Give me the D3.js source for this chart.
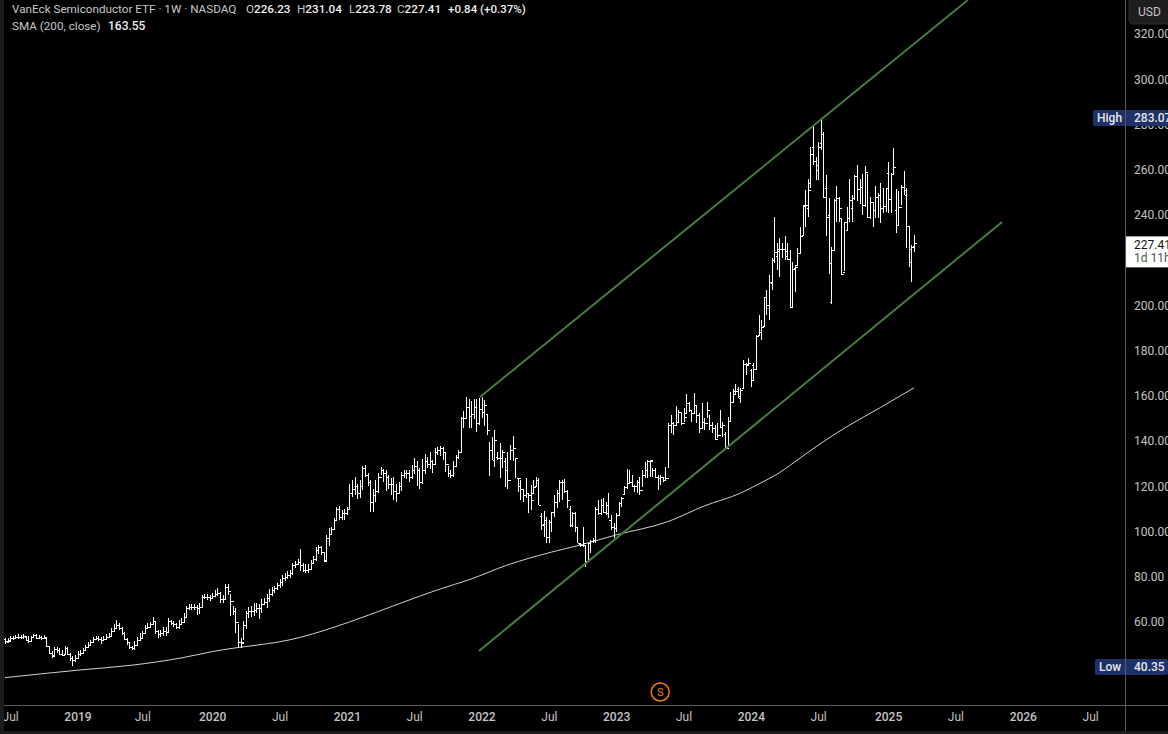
<!DOCTYPE html>
<html>
<head>
<meta charset="utf-8">
<script src="https://cdn.jsdelivr.net/npm/d3@7"></script>
<style>
  html, body { margin: 0; padding: 0; background: #000; overflow: hidden; }
  text { font-family: Roboto, sans-serif; }
</style>
</head>
<body>
<svg id="chart" width="1168" height="734"></svg>
<script>
// weekly bars (one row = 10 weeks)
var opens = [
  52.5,51.2,52,53,53,53.2,53.5,53.2,53.5,52,
  51.6,53.5,54.2,53,53.2,53,53,49.5,46.5,45.2,
  48,47.5,46,45.8,48.5,46,44,43,44,46,
  46.5,47.5,49,50,51,52.5,53,52.5,52,52.5,
  53.5,54,56,57.5,58.5,57.5,55,52.5,51,49,
  48.5,50,52,53,55,57.5,58,59,60.5,56,
  54.5,55,56,55.5,60.5,59.5,59,58,59,60,
  62,66,66.5,66.7,66.5,66,66.5,71,71.2,71,
  70.5,71.5,72.6,73,70,70,75.5,73.5,69.5,65,
  60,51,51,58.6,63.8,65,65,65.5,66,66,
  68,69,70.5,72.5,74,75,76.3,77.7,79.6,80,
  81,81.5,85,85.5,86.5,85,83,83,83.5,86,
  88,92,93,91,87.5,97,99,101,105,110,
  106.5,108,108,110,117,119,120,117,120,128,
  125,122,113,116,118,124,127,126,124,121,
  121,118,117,120,125,126,126,124,127,129,
  127,122,127,131,130,131,130,135,136,137,
  135,130,126,125,129,133,135,150,150,155,
  151,152,155,148,154,153,152,145,136,131.7,
  133,132.4,132.4,131,127,123,136,136.8,123.5,120,
  119,116,117,116,117,120,122.8,107,103.5,105,
  97.8,104.4,108.8,113,117,122,122,118,110,103,
  108,102,94.5,94,94,87,94.8,96,96.3,110,
  108,111.8,108.8,108,105,102,101.4,107.3,112.5,116.5,
  119.8,121.3,122,120,120,122,118.4,125,127.2,131,
  131,127,124.3,123.6,124.3,122.8,123.5,147,147.9,147,
  148.6,153,147.9,152.5,156.7,153.8,152.3,156,151.6,145.7,
  148.6,148,153.8,147,145.7,141,142.7,146.4,143,137,
  149,157.5,162,163,159,163.5,174,174,171.5,173.6,
  172,187,188.4,191,203.9,200,210,220,222,225,
  225,225,224,220.5,199.4,216.5,218,223,231,244.4,
  243,254,270,264,260,272,276,252,240,201.5,
  224.5,246.6,247.6,238.5,214.9,233.5,238.5,243,247.3,257,
  251.3,252.5,244.4,259,239.2,245.8,242,248,248.8,242.9,
  244,258.4,247,258,242,235.5,243.6,252.2,249,235,
  219,226.23
]
var highs = [
  53,53,53.8,54,54.2,54.6,54.4,54.6,53.8,53.6,
  54,54.8,54.5,54.2,54,54.2,53.4,49.5,47.2,49,
  49,48.4,47.6,49.6,48.8,46.5,45,45.5,47,47.6,
  48.5,50,51,52,53.4,54,54,53.2,53.6,54.6,
  55,57.4,59,60.8,59.6,57.8,55.4,52.8,51,49.6,
  51.4,53.2,55,56.2,58.6,59.4,60.2,62,60.6,56.6,
  56.6,57.6,58,61.8,61,60.4,59.6,60.8,61.6,63.8,
  67,67.8,68,68,67.6,68.2,72,72.6,72.4,72,
  72.8,74,75,73.2,72,76.8,76.6,72.4,67,66,
  59,52.8,60.5,65,66.8,67.2,68.4,68.2,67.8,70,
  70.6,72.4,74.8,75.6,76,77.4,79.2,81,81.6,82.4,
  83,86.2,86.8,88,92.3,86,85.5,85.5,87.4,89.2,
  93,94,93.8,91,98.6,101.6,102,106,111,111.4,
  109.5,109.8,111,121,122.8,124,121,122.6,129.2,129.4,
  126,123,119,122.6,125.8,128.4,127.6,127,124.8,123.6,
  124,120.8,121.8,126.2,127.4,127.4,127,129.6,132.6,131.4,
  128,132,134.4,133,135,131.8,137,137.6,138,137.4,
  135,129,127.4,131.4,134,136,150.6,153.4,159.4,158.4,
  157.8,158.6,158.4,159,159.5,158,152,139.8,142,145,
  135.3,139,136,132.4,135.3,138.3,142.3,132.4,123.6,122.8,
  119,123.6,116.9,120.6,122.8,124.3,123.6,108,109.3,106.6,
  105.1,108.8,116.2,118.4,122.8,122.8,123.4,118.4,111.3,108.8,
  108.8,102.2,94.8,102.2,94.1,94.8,96.3,97,111,114,
  114.3,114.7,113.2,116.9,107.3,103.6,108,113.2,115.4,120.2,
  127.5,127.2,125,120.6,122.8,124.3,127.2,130.9,131.7,131.7,
  128,128,125,125,123.6,128.4,147.9,151.6,148.6,155.5,
  153.8,152.3,154.5,160.8,157.5,153.8,161.1,156,152.3,156.7,
  150,157.5,151.6,148.6,147.1,147.9,153.8,148.6,144.2,150.5,
  161.9,162.9,165.2,164,163.3,175.9,174.4,176.6,172,174.4,
  187,195.8,193.6,203.9,206.8,213.5,220.8,239.3,227.5,229.7,
  227.5,230.7,227.5,224.5,219.4,217.9,225.2,234.8,244.4,251,
  255.7,270,279.3,265.7,272.4,283.07,276.8,257.6,247.3,226,
  246.9,253,248,238.5,237,243.6,255.7,248.8,257.6,262,
  256,258,261.6,258,247.8,245.8,252.8,249.5,254,252,
  252,263.5,258.4,269.4,251.3,250.7,253.2,259.4,251.7,235,
  226.7,231.04
]
var lows = [
  50.2,50.8,51.5,52.2,52.4,52.6,52.4,52.6,51.4,50.6,
  51.4,53,52.6,52.4,52,52.4,49,45.8,44,44.6,
  46.4,45.2,44.8,45.6,45.4,42.8,40.35,42.4,43.8,44.8,
  45.8,47.2,48.6,49.8,50.6,52,51.4,50.2,51.4,52.2,
  52.8,53.8,55.6,57,56.6,54.4,52,50,48,47.6,
  47.8,49.6,51.4,52.6,54.8,56.8,57.4,59,54.8,52.8,
  53.2,53.8,54,55.2,58.6,57.6,56.8,57,58.8,59.8,
  62,65.2,65.4,65.4,63,63.4,66.4,70,69.6,69.2,
  70,71,71.6,68.4,68.4,69.6,71.8,62.6,63,55,
  48.4,48.3,52,57,61.8,62,62.6,64,61.5,63.8,
  67.4,66.4,69,71.4,73,74,75,76,78,79.2,
  79.6,81,84,85,82.4,82,81.8,81.8,83,85.8,
  87,90.2,89.6,86.4,87,93.6,98.6,100.6,104.6,105,
  105,105.2,107.5,110,115.4,116,114.4,115,118.4,124,
  120,108.5,108.5,113,117,125,122,118,119,116,
  114,113,116.4,117.8,123.6,123.4,121.8,123.4,125.4,120,
  119,121,125.6,128,127.6,126,129.6,134,133.6,131.8,
  126.4,124,123.6,124,128.6,132,134.6,146,149.6,146,
  146,149.6,144,147,150,146.5,142.6,124.6,131.7,128.7,
  131.7,123.6,128,119.9,119,131.7,131,123.6,117.7,114,
  113.2,114.7,108,109.6,116.9,119.9,111.8,100.7,97.8,95,
  94.8,100,106.6,110.3,113.2,114,116.9,110.3,102.2,102.2,
  100,94.8,93.3,93.3,84.4,86.7,90.4,94.8,94.8,107.3,
  107.3,108,107.3,105.9,100.7,97,100,107.3,111,116.2,
  119,121.3,119.9,117.7,116.9,116.2,119.9,123.6,123.6,124.3,
  124.3,123.6,118.4,120.6,122,122.8,128,143.5,142.7,147.1,
  148.6,147.1,148.6,152.3,153,148.6,152.3,147.9,143.5,145.7,
  144.9,150,144.9,143.5,140.5,141.2,145.7,142,136.8,138,
  149,156.7,161,159,156.7,163.3,169,173,164,167,
  171.4,187,184.7,190.6,195.8,193.6,206.8,218.6,215.7,212.7,
  220.8,220,220,198.7,198.7,206,217.9,223,230.7,234.8,
  239,251.7,262,255.4,255.4,268.7,247.3,230.7,214,200.6,
  224.5,237,237,213.4,215,233.3,237,237,246.6,246,
  245,240,243.6,238.5,238,234.5,238.5,238.5,236.6,240.7,
  241.4,240.7,240.7,258,232,235.5,244.4,248.8,225.2,217,
  210.5,223.78
]
var closes = [
  51.5,51.8,53,53,53.2,53.5,53.2,53.6,52,51.5,
  53.5,54.2,53,53.2,53,53.2,49.5,46.5,45,48,
  47.5,46,45.5,48.5,46,44,43,44,46,46.5,
  47.5,49,50,51,52.5,53,52.5,52,52.5,53.5,
  54,56,57.5,58.5,57.5,55,52.5,51,49,48.5,
  50,52,53,55,57.5,58,59,60.5,56,54.5,
  55,56,55.5,60.5,59.5,59,58,59,60,62,
  66,66.5,66.7,66.5,66,66.5,71,71.2,71,70.5,
  71.5,72.6,73,70,70,75.5,73.5,69.5,65,60,
  51,50.5,58.6,63.8,65,65,65.5,66,66,68,
  69,70.5,72.5,74,75,76.3,77.7,79.6,80,81,
  81.5,85,85.5,86.5,85,83,83,83.5,86,88,
  92,93,91,87,97,99,101,105,110,106.5,
  108,108,110,117,119,120,117,120,128,125,
  122,113,116,118,124,127,126,124,121,121,
  118,117,120,125,126,126,124,127,129,127,
  122,127,131,130,131,130,135,136,137,135,
  130,126,125,129,133,135,150,150,155,151,
  152,155,148,154,153,156,145,136,131.7,140.5,
  132.4,132.4,135,127,122.8,136,136.8,132.4,123.6,119,
  116,117,116,114,119.8,122.8,111.8,103,105,97.8,
  104.4,108.8,113,117,122,122,118,114,103,108,
  102,95,94,94.8,87,94.8,96,96.3,110,108,
  111.8,108.8,111.8,105,102,101.4,107.3,112.5,114.7,119.8,
  121.3,122,120,120,122,118.4,125,127.2,131,131.7,
  127,124.3,123.6,124.3,122.8,123.5,147,147.9,147,148.6,
  153,147.9,150.8,156.7,153.8,152.3,156,151.6,145.7,148.6,
  148,153.8,147,145.7,141,142.7,146.4,147,137,149,
  157.4,161,162,160,162.6,174,173.5,174.5,167,172,
  186.5,188.4,190.6,203.5,200.2,210.5,220,223.8,224,225,
  225,222,220.5,199.4,216,217,223,230.7,244,244.5,
  251,267,264,262,270,276,248,239,218.6,224.5,
  246.6,247.6,243,214,237,238.5,246.6,247.3,257,251.3,
  252.5,244.4,259.1,239.2,245.8,242,248,248.8,242.9,244,
  251.7,246.9,258,261,235.5,243.6,252.2,251,235,224.8,
  226,227.41
]

// SMA 200, picked at a few weeks along the curve
var smaWeeks = [0,29,49,68,80,114,133,152,168,179,194,211,222,236,256,270,284,291,299,307,317,326,338,351]
var smaValues = [35.4,38.8,40.9,44.1,46.9,53.2,60,68,74.6,78.6,85.2,90.9,94,98.5,104.4,111.3,117,121,126,132.5,140.5,147,154.8,163.55]

// hand drawn channel, [week, price]
var channelUpper = [[183.4,159.5],[371.8,335]]
var channelLower = [[183,47.2],[385,236.9]]

var priceTicks = [320,300,280,260,240,200,180,160,140,120,100,80,60]
var timeTickWeeks = [2,28,53,80,106,132,158,184,210,236,262,288,314,341,367,393,419]
var timeTickLabels = ["Jul","2019","Jul","2020","Jul","2021","Jul","2022","Jul","2023","Jul","2024","Jul","2025","Jul","2026","Jul"]

var splitWeek = 253
var lastPrice = 227.41, highPrice = 283.07, lowPrice = 40.35

var svg = d3.select("#chart")

var x = d3.scaleLinear().domain([0, 351]).range([5, 914])
var y = d3.scaleLinear().domain([320, 60]).range([34, 622])

var paneRight = 1125, paneBottom = 705

svg.append("defs").append("clipPath").attr("id", "pane")
  .append("rect").attr("x", 4).attr("y", 0).attr("width", paneRight - 4).attr("height", paneBottom)

var pane = svg.append("g").attr("clip-path", "url(#pane)")

// SMA under the bars
var smaLine = d3.line()
  .x(function(d) { return x(d[0]) })
  .y(function(d) { return y(d[1]) })
  .curve(d3.curveMonotoneX)

pane.append("path")
  .datum(d3.zip(smaWeeks, smaValues))
  .attr("d", smaLine)
  .attr("fill", "none")
  .attr("stroke", "#d2d2d2")
  .attr("stroke-width", 1)

// OHLC bars
function barPath(i) {
  var cx = Math.round(x(i)) + 0.5
  var yo = Math.round(y(opens[i])) + 0.5
  var yc = Math.round(y(closes[i])) + 0.5
  return "M" + cx + "," + Math.round(y(highs[i])) + "V" + Math.round(y(lows[i])) +
    "M" + (cx - 2) + "," + yo + "H" + cx +
    "M" + cx + "," + yc + "H" + (cx + 2)
}

pane.append("g").selectAll("path")
  .data(d3.range(closes.length))
  .join("path")
  .attr("d", barPath)
  .attr("fill", "none")
  .attr("stroke", "#ffffff")
  .attr("stroke-width", 1)
  .attr("shape-rendering", "crispEdges")

// trend channel
pane.selectAll(".channel")
  .data([channelUpper, channelLower])
  .join("line")
  .attr("class", "channel")
  .attr("x1", function(d) { return x(d[0][0]) })
  .attr("y1", function(d) { return y(d[0][1]) })
  .attr("x2", function(d) { return x(d[1][0]) })
  .attr("y2", function(d) { return y(d[1][1]) })
  .attr("stroke", "#457f3f")
  .attr("stroke-width", 2)

// left strip and frame
svg.append("rect").attr("x", 0).attr("y", 0).attr("width", 4).attr("height", 734).attr("fill", "#1c1c1c")
svg.append("rect").attr("x", 0).attr("y", 731).attr("width", 1168).attr("height", 3).attr("fill", "#1c1c1c")
svg.append("line").attr("x1", paneRight + 0.5).attr("x2", paneRight + 0.5).attr("y1", 0).attr("y2", 731)
  .attr("stroke", "#5a5a5a")
svg.append("line").attr("x1", 4).attr("x2", 1168).attr("y1", paneBottom + 0.5).attr("y2", paneBottom + 0.5)
  .attr("stroke", "#5a5a5a")

// price axis
var yAxis = d3.axisRight(y)
  .tickValues(priceTicks)
  .tickFormat(d3.format(".2f"))
  .tickSize(0)
  .tickPadding(9)

var yg = svg.append("g").attr("transform", "translate(" + paneRight + ",0)").call(yAxis)
yg.select(".domain").remove()
yg.selectAll("text").attr("fill", "#c4c4c4").style("font-size", "12px")

// time axis
var xAxis = d3.axisBottom(x)
  .tickValues(timeTickWeeks)
  .tickFormat(function(d, i) { return timeTickLabels[i] })
  .tickSize(0)
  .tickPadding(7)

var xg = svg.append("g").attr("transform", "translate(0," + paneBottom + ")").call(xAxis)
xg.select(".domain").remove()
xg.selectAll("text")
  .attr("fill", "#c4c4c4")
  .style("font-size", "12px")
  .style("font-weight", function(d, i) { return timeTickLabels[i] == "Jul" ? 400 : 500 })
svg.append("rect").attr("x", 0).attr("y", 706).attr("width", 4).attr("height", 28).attr("fill", "#1c1c1c")

// high / low tags
function tag(price, left, name) {
  var cy = y(price)
  svg.append("rect").attr("x", left).attr("y", cy - 7.5).attr("width", 1168 - left).attr("height", 16)
    .attr("rx", 2).attr("fill", "#1c3268")
  svg.append("line").attr("x1", paneRight + 0.5).attr("x2", paneRight + 0.5).attr("y1", cy - 7.5).attr("y2", cy + 8.5)
    .attr("stroke", "#5a5a5a")
  svg.append("text").attr("x", left + 4).attr("y", cy + 4.5).attr("fill", "#e6e6e6").style("font-size", "12px")
    .style("font-weight", 500).text(name)
  svg.append("text").attr("x", 1134).attr("y", cy + 4.5).attr("fill", "#e6e6e6").style("font-size", "12px")
    .style("font-weight", 500).text(price.toFixed(2))
}
tag(highPrice, 1093, "High")
tag(lowPrice, 1095, "Low")

// last price tag
svg.append("rect").attr("x", paneRight + 1).attr("y", y(lastPrice) - 7).attr("width", 43).attr("height", 31).attr("fill", "#ffffff")
svg.append("text").attr("x", 1134).attr("y", y(lastPrice) + 6).attr("fill", "#111").style("font-size", "12px").text(lastPrice.toFixed(2))
svg.append("text").attr("x", 1134).attr("y", y(lastPrice) + 19).attr("fill", "#555").style("font-size", "12px").text("1d 11h")

// currency button
svg.append("rect").attr("x", 1129).attr("y", -4).attr("width", 45).attr("height", 28).attr("rx", 4)
  .attr("fill", "#1e1e1e").attr("stroke", "#2c2c2c")
svg.append("text").attr("x", 1138).attr("y", 16).attr("fill", "#c4c4c4").style("font-size", "12px").text("USD")

// split marker
var mark = svg.append("g").attr("transform", "translate(" + x(splitWeek) + ",692)")
mark.append("circle").attr("r", 9).attr("fill", "none").attr("stroke", "#f57c00").attr("stroke-width", 1.5)
mark.append("text").attr("text-anchor", "middle").attr("y", 4).attr("fill", "#f57c00").style("font-size", "11px").text("S")

// legend
var legend = svg.append("g")
var top1 = legend.append("text").attr("y", 13).style("font-size", "11.7px").attr("fill", "#c8c8c8")
top1.append("tspan").attr("x", 12).text("VanEck Semiconductor ETF · 1W · NASDAQ")
top1.append("tspan").attr("x", 246).text("O")
top1.append("tspan").attr("fill", "#eeeeee").style("font-weight", 500).text("226.23")
top1.append("tspan").attr("x", 297).text("H")
top1.append("tspan").attr("fill", "#eeeeee").style("font-weight", 500).text("231.04")
top1.append("tspan").attr("x", 349).text("L")
top1.append("tspan").attr("fill", "#eeeeee").style("font-weight", 500).text("223.78")
top1.append("tspan").attr("x", 397).text("C")
top1.append("tspan").attr("fill", "#eeeeee").style("font-weight", 500).text("227.41")
top1.append("tspan").attr("x", 448).attr("fill", "#eeeeee").style("font-weight", 500).style("font-size", "11.5px").text("+0.84 (+0.37%)")

var top2 = legend.append("text").attr("y", 30).style("font-size", "11.7px").attr("fill", "#c8c8c8")
top2.append("tspan").attr("x", 12).text("SMA (200, close)")
top2.append("tspan").attr("x", 108).attr("fill", "#eeeeee").style("font-weight", 500).style("font-size", "12px").text("163.55")
</script>
</body>
</html>
